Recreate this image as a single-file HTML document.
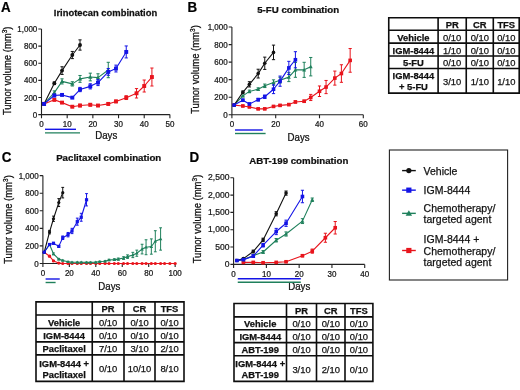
<!DOCTYPE html>
<html><head><meta charset="utf-8"><style>
html,body{margin:0;padding:0;background:#fff;}
body{width:520px;height:390px;position:relative;overflow:hidden;}
svg{will-change:transform;}
svg text{font-family:"Liberation Sans",sans-serif;stroke:#111;stroke-width:0.25px;}
</style></head><body>
<svg width="520" height="390" viewBox="0 0 520 390" style="position:absolute;left:0;top:0">
<path d="M41.5 29V114.6H169.9" fill="none" stroke="#222222" stroke-width="1.1"/>
<path d="M38.3 114.6H41.5M38.3 97.48H41.5M38.3 80.36H41.5M38.3 63.24H41.5M38.3 46.12H41.5M38.3 29H41.5M41.5 114.6V118.2M67.18 114.6V118.2M92.86 114.6V118.2M118.54 114.6V118.2M144.22 114.6V118.2M169.9 114.6V118.2" fill="none" stroke="#222222" stroke-width="1.1"/>
<text transform="translate(37.3,117.7) scale(0.91,1)" font-size="8.8" text-anchor="end" font-weight="normal" fill="#222" >0</text>
<text transform="translate(37.3,100.58) scale(0.91,1)" font-size="8.8" text-anchor="end" font-weight="normal" fill="#222" >200</text>
<text transform="translate(37.3,83.46) scale(0.91,1)" font-size="8.8" text-anchor="end" font-weight="normal" fill="#222" >400</text>
<text transform="translate(37.3,66.34) scale(0.91,1)" font-size="8.8" text-anchor="end" font-weight="normal" fill="#222" >600</text>
<text transform="translate(37.3,49.22) scale(0.91,1)" font-size="8.8" text-anchor="end" font-weight="normal" fill="#222" >800</text>
<text transform="translate(37.3,32.1) scale(0.91,1)" font-size="8.8" text-anchor="end" font-weight="normal" fill="#222" >1,000</text>
<text transform="translate(41.5,126.7) scale(0.91,1)" font-size="8.8" text-anchor="middle" font-weight="normal" fill="#222" >0</text>
<text transform="translate(67.18,126.7) scale(0.91,1)" font-size="8.8" text-anchor="middle" font-weight="normal" fill="#222" >10</text>
<text transform="translate(92.86,126.7) scale(0.91,1)" font-size="8.8" text-anchor="middle" font-weight="normal" fill="#222" >20</text>
<text transform="translate(118.54,126.7) scale(0.91,1)" font-size="8.8" text-anchor="middle" font-weight="normal" fill="#222" >30</text>
<text transform="translate(144.22,126.7) scale(0.91,1)" font-size="8.8" text-anchor="middle" font-weight="normal" fill="#222" >40</text>
<text transform="translate(169.9,126.7) scale(0.91,1)" font-size="8.8" text-anchor="middle" font-weight="normal" fill="#222" >50</text>
<text transform="translate(10.7,70.8) rotate(-90) scale(1,1.1)" font-size="9.5" text-anchor="middle" fill="#111">Tumor volume (mm<tspan dy="-3.2" font-size="6.5">3</tspan><tspan dy="3.2">)</tspan></text>
<text transform="translate(106.2,139.3) scale(0.97,1)" font-size="10" text-anchor="middle" font-weight="normal" fill="#111" >Days</text>
<text transform="translate(105.5,15.65) scale(0.96,1)" font-size="9.8" text-anchor="middle" font-weight="bold" fill="#111" >Irinotecan combination</text>
<text transform="translate(1,12.2) scale(0.88,1)" font-size="15.2" text-anchor="start" font-weight="bold" fill="#000" >A</text>
<path d="M45 129.3H76" stroke="#1414e6" stroke-width="1.4"/>
<path d="M45 132.9H80" stroke="#1f805c" stroke-width="1.4"/>
<polyline points="44.07,103.9 54.34,99.79 62.04,102.62 72.32,106.72 80.02,105.53 90.29,104.76 98,105.53 108.27,103.9 115.97,101.42 126.24,97.65 136.52,93.29 144.22,86.01 151.92,77.02" fill="none" stroke="#e8141c" stroke-width="1.1" stroke-linejoin="round"/>
<path d="M54.34 98.51V101.08M52.74 98.51H55.94M52.74 101.08H55.94M62.04 101.76V103.47M60.44 101.76H63.64M60.44 103.47H63.64M72.32 105.87V107.58M70.72 105.87H73.92M70.72 107.58H73.92M80.02 104.24V106.81M78.42 104.24H81.62M78.42 106.81H81.62M90.29 103.47V106.04M88.69 103.47H91.89M88.69 106.04H91.89M98 104.5V106.55M96.4 104.5H99.6M96.4 106.55H99.6M108.27 102.62V105.18M106.67 102.62H109.87M106.67 105.18H109.87M115.97 100.13V102.7M114.37 100.13H117.57M114.37 102.7H117.57M126.24 95.77V99.53M124.64 95.77H127.84M124.64 99.53H127.84M136.52 88.58V97.99M134.92 88.58H138.12M134.92 97.99H138.12M144.22 80.02V92M142.62 80.02H145.82M142.62 92H145.82M151.92 68.03V86.01M150.32 68.03H153.52M150.32 86.01H153.52" fill="none" stroke="#e8141c" stroke-width="1"/>
<rect x="42.12" y="101.95" width="3.9" height="3.9" fill="#e8141c"/>
<rect x="52.39" y="97.84" width="3.9" height="3.9" fill="#e8141c"/>
<rect x="60.09" y="100.67" width="3.9" height="3.9" fill="#e8141c"/>
<rect x="70.37" y="104.77" width="3.9" height="3.9" fill="#e8141c"/>
<rect x="78.07" y="103.58" width="3.9" height="3.9" fill="#e8141c"/>
<rect x="88.34" y="102.81" width="3.9" height="3.9" fill="#e8141c"/>
<rect x="96.05" y="103.58" width="3.9" height="3.9" fill="#e8141c"/>
<rect x="106.32" y="101.95" width="3.9" height="3.9" fill="#e8141c"/>
<rect x="114.02" y="99.47" width="3.9" height="3.9" fill="#e8141c"/>
<rect x="124.29" y="95.7" width="3.9" height="3.9" fill="#e8141c"/>
<rect x="134.57" y="91.34" width="3.9" height="3.9" fill="#e8141c"/>
<rect x="142.27" y="84.06" width="3.9" height="3.9" fill="#e8141c"/>
<rect x="149.97" y="75.07" width="3.9" height="3.9" fill="#e8141c"/>
<polyline points="44.07,103.9 54.34,92.6 62.04,81.39 72.32,83.87 80.02,78.9 90.29,77.02 98,77.62 108.27,70" fill="none" stroke="#1f805c" stroke-width="1.1" stroke-linejoin="round"/>
<path d="M54.34 90.89V94.31M52.74 90.89H55.94M52.74 94.31H55.94M62.04 78.82V83.96M60.44 78.82H63.64M60.44 83.96H63.64M72.32 81.73V86.01M70.72 81.73H73.92M70.72 86.01H73.92M80.02 75.48V82.33M78.42 75.48H81.62M78.42 82.33H81.62M90.29 73.17V80.87M88.69 73.17H91.89M88.69 80.87H91.89M98 73.77V81.47M96.4 73.77H99.6M96.4 81.47H99.6M108.27 62.3V77.71M106.67 62.3H109.87M106.67 77.71H109.87" fill="none" stroke="#1f805c" stroke-width="1"/>
<path d="M41.92 105.56L46.21 105.56L44.07 101.85Z" fill="#1f805c"/>
<path d="M52.2 94.26L56.49 94.26L54.34 90.55Z" fill="#1f805c"/>
<path d="M59.9 83.04L64.19 83.04L62.04 79.34Z" fill="#1f805c"/>
<path d="M70.17 85.53L74.46 85.53L72.32 81.82Z" fill="#1f805c"/>
<path d="M77.88 80.56L82.17 80.56L80.02 76.86Z" fill="#1f805c"/>
<path d="M88.15 78.68L92.44 78.68L90.29 74.97Z" fill="#1f805c"/>
<path d="M95.85 79.28L100.14 79.28L98 75.57Z" fill="#1f805c"/>
<path d="M106.12 71.66L110.41 71.66L108.27 67.95Z" fill="#1f805c"/>
<polyline points="44.07,103.9 54.34,83.27 62.04,70.6 72.32,55.02 80.02,45.01" fill="none" stroke="#111111" stroke-width="1.1" stroke-linejoin="round"/>
<path d="M54.34 81.99V84.55M52.74 81.99H55.94M52.74 84.55H55.94M62.04 66.75V74.45M60.44 66.75H63.64M60.44 74.45H63.64M72.32 51.43V58.62M70.72 51.43H73.92M70.72 58.62H73.92M80.02 39.87V50.14M78.42 39.87H81.62M78.42 50.14H81.62" fill="none" stroke="#111111" stroke-width="1"/>
<circle cx="44.07" cy="103.9" r="1.95" fill="#111111"/>
<circle cx="54.34" cy="83.27" r="1.95" fill="#111111"/>
<circle cx="62.04" cy="70.6" r="1.95" fill="#111111"/>
<circle cx="72.32" cy="55.02" r="1.95" fill="#111111"/>
<circle cx="80.02" cy="45.01" r="1.95" fill="#111111"/>
<polyline points="44.07,103.9 54.34,95.51 62.04,94.91 72.32,97.65 80.02,89.52 90.29,86.35 98,82.59 108.27,71.89 115.97,68.55 126.24,51.94" fill="none" stroke="#1414e6" stroke-width="1.1" stroke-linejoin="round"/>
<path d="M54.34 94.23V96.8M52.74 94.23H55.94M52.74 96.8H55.94M62.04 94.06V95.77M60.44 94.06H63.64M60.44 95.77H63.64M72.32 96.8V98.51M70.72 96.8H73.92M70.72 98.51H73.92M80.02 87.38V91.66M78.42 87.38H81.62M78.42 91.66H81.62M90.29 83.78V88.92M88.69 83.78H91.89M88.69 88.92H91.89M98 79.59V85.58M96.4 79.59H99.6M96.4 85.58H99.6M108.27 68.46V75.31M106.67 68.46H109.87M106.67 75.31H109.87M115.97 65.12V71.97M114.37 65.12H117.57M114.37 71.97H117.57M126.24 45.95V57.93M124.64 45.95H127.84M124.64 57.93H127.84" fill="none" stroke="#1414e6" stroke-width="1"/>
<rect x="42.12" y="101.95" width="3.9" height="3.9" fill="#1414e6"/>
<rect x="52.39" y="93.56" width="3.9" height="3.9" fill="#1414e6"/>
<rect x="60.09" y="92.96" width="3.9" height="3.9" fill="#1414e6"/>
<rect x="70.37" y="95.7" width="3.9" height="3.9" fill="#1414e6"/>
<rect x="78.07" y="87.57" width="3.9" height="3.9" fill="#1414e6"/>
<rect x="88.34" y="84.4" width="3.9" height="3.9" fill="#1414e6"/>
<rect x="96.05" y="80.64" width="3.9" height="3.9" fill="#1414e6"/>
<rect x="106.32" y="69.94" width="3.9" height="3.9" fill="#1414e6"/>
<rect x="114.02" y="66.6" width="3.9" height="3.9" fill="#1414e6"/>
<rect x="124.29" y="49.99" width="3.9" height="3.9" fill="#1414e6"/>
<path d="M231.9 27.05V114.75H363.3" fill="none" stroke="#222222" stroke-width="1.1"/>
<path d="M228.7 114.75H231.9M228.7 97.21H231.9M228.7 79.67H231.9M228.7 62.13H231.9M228.7 44.59H231.9M228.7 27.05H231.9M231.9 114.75V118.35M275.7 114.75V118.35M319.5 114.75V118.35M363.3 114.75V118.35" fill="none" stroke="#222222" stroke-width="1.1"/>
<text transform="translate(227.7,117.85) scale(0.91,1)" font-size="8.8" text-anchor="end" font-weight="normal" fill="#222" >0</text>
<text transform="translate(227.7,100.31) scale(0.91,1)" font-size="8.8" text-anchor="end" font-weight="normal" fill="#222" >200</text>
<text transform="translate(227.7,82.77) scale(0.91,1)" font-size="8.8" text-anchor="end" font-weight="normal" fill="#222" >400</text>
<text transform="translate(227.7,65.23) scale(0.91,1)" font-size="8.8" text-anchor="end" font-weight="normal" fill="#222" >600</text>
<text transform="translate(227.7,47.69) scale(0.91,1)" font-size="8.8" text-anchor="end" font-weight="normal" fill="#222" >800</text>
<text transform="translate(227.7,30.15) scale(0.91,1)" font-size="8.8" text-anchor="end" font-weight="normal" fill="#222" >1,000</text>
<text transform="translate(231.9,126.85) scale(0.91,1)" font-size="8.8" text-anchor="middle" font-weight="normal" fill="#222" >0</text>
<text transform="translate(275.7,126.85) scale(0.91,1)" font-size="8.8" text-anchor="middle" font-weight="normal" fill="#222" >20</text>
<text transform="translate(319.5,126.85) scale(0.91,1)" font-size="8.8" text-anchor="middle" font-weight="normal" fill="#222" >40</text>
<text transform="translate(363.3,126.85) scale(0.91,1)" font-size="8.8" text-anchor="middle" font-weight="normal" fill="#222" >60</text>
<text transform="translate(198.75,69.5) rotate(-90) scale(1,1.1)" font-size="9.5" text-anchor="middle" fill="#111">Tumor volume (mm<tspan dy="-3.2" font-size="6.5">3</tspan><tspan dy="3.2">)</tspan></text>
<text transform="translate(298.6,141.3) scale(0.97,1)" font-size="10" text-anchor="middle" font-weight="normal" fill="#111" >Days</text>
<text transform="translate(298.1,13.4) scale(0.99,1)" font-size="9.8" text-anchor="middle" font-weight="bold" fill="#111" >5-FU combination</text>
<text transform="translate(187.6,12.2) scale(0.88,1)" font-size="15.2" text-anchor="start" font-weight="bold" fill="#000" >B</text>
<path d="M235 130H262.75" stroke="#1414e6" stroke-width="1.4"/>
<path d="M235 133.5H265.6" stroke="#1f805c" stroke-width="1.4"/>
<polyline points="234.09,105.1 242.85,105.98 249.42,106.94 258.18,108.87 264.75,108.87 273.51,106.42 280.08,105.37 288.84,104.58 295.41,101.95 304.17,101.24 310.74,97.47 319.5,91.25 326.07,87.04 334.83,78.09 341.4,73.53 350.16,60.38" fill="none" stroke="#e8141c" stroke-width="1.1" stroke-linejoin="round"/>
<path d="M242.85 105.28V106.68M241.25 105.28H244.45M241.25 106.68H244.45M249.42 106.24V107.65M247.82 106.24H251.02M247.82 107.65H251.02M258.18 108.17V109.58M256.58 108.17H259.78M256.58 109.58H259.78M264.75 108.17V109.58M263.15 108.17H266.35M263.15 109.58H266.35M273.51 105.54V107.3M271.91 105.54H275.11M271.91 107.3H275.11M280.08 104.49V106.24M278.48 104.49H281.68M278.48 106.24H281.68M288.84 103.52V105.63M287.24 103.52H290.44M287.24 105.63H290.44M295.41 100.89V103M293.81 100.89H297.01M293.81 103H297.01M304.17 100.19V102.3M302.57 100.19H305.77M302.57 102.3H305.77M310.74 94.4V100.54M309.14 94.4H312.34M309.14 100.54H312.34M319.5 85.98V96.51M317.9 85.98H321.1M317.9 96.51H321.1M326.07 80.46V93.61M324.47 80.46H327.67M324.47 93.61H327.67M334.83 71.08V85.11M333.23 71.08H336.43M333.23 85.11H336.43M341.4 64.76V82.3M339.8 64.76H343M339.8 82.3H343M350.16 48.54V72.22M348.56 48.54H351.76M348.56 72.22H351.76" fill="none" stroke="#e8141c" stroke-width="1"/>
<rect x="232.29" y="103.3" width="3.6" height="3.6" fill="#e8141c"/>
<rect x="241.05" y="104.18" width="3.6" height="3.6" fill="#e8141c"/>
<rect x="247.62" y="105.14" width="3.6" height="3.6" fill="#e8141c"/>
<rect x="256.38" y="107.07" width="3.6" height="3.6" fill="#e8141c"/>
<rect x="262.95" y="107.07" width="3.6" height="3.6" fill="#e8141c"/>
<rect x="271.71" y="104.62" width="3.6" height="3.6" fill="#e8141c"/>
<rect x="278.28" y="103.57" width="3.6" height="3.6" fill="#e8141c"/>
<rect x="287.04" y="102.78" width="3.6" height="3.6" fill="#e8141c"/>
<rect x="293.61" y="100.15" width="3.6" height="3.6" fill="#e8141c"/>
<rect x="302.37" y="99.44" width="3.6" height="3.6" fill="#e8141c"/>
<rect x="308.94" y="95.67" width="3.6" height="3.6" fill="#e8141c"/>
<rect x="317.7" y="89.45" width="3.6" height="3.6" fill="#e8141c"/>
<rect x="324.27" y="85.24" width="3.6" height="3.6" fill="#e8141c"/>
<rect x="333.03" y="76.29" width="3.6" height="3.6" fill="#e8141c"/>
<rect x="339.6" y="71.73" width="3.6" height="3.6" fill="#e8141c"/>
<rect x="348.36" y="58.58" width="3.6" height="3.6" fill="#e8141c"/>
<polyline points="234.09,105.1 242.85,95.89 249.42,91.42 258.18,89.14 264.75,85.81 273.51,82.48 280.08,80.2 288.84,77.13 295.41,69.85 304.17,69.85 310.74,66.69" fill="none" stroke="#1f805c" stroke-width="1.1" stroke-linejoin="round"/>
<path d="M242.85 95.02V96.77M241.25 95.02H244.45M241.25 96.77H244.45M249.42 90.11V92.74M247.82 90.11H251.02M247.82 92.74H251.02M258.18 87.83V90.46M256.58 87.83H259.78M256.58 90.46H259.78M264.75 84.06V87.56M263.15 84.06H266.35M263.15 87.56H266.35M273.51 79.85V85.11M271.91 79.85H275.11M271.91 85.11H275.11M280.08 77.3V83.09M278.48 77.3H281.68M278.48 83.09H281.68M288.84 72.65V81.6M287.24 72.65H290.44M287.24 81.6H290.44M295.41 62.39V77.3M293.81 62.39H297.01M293.81 77.3H297.01M304.17 62.31V77.39M302.57 62.31H305.77M302.57 77.39H305.77M310.74 57.48V75.9M309.14 57.48H312.34M309.14 75.9H312.34" fill="none" stroke="#1f805c" stroke-width="1"/>
<path d="M232.11 106.63L236.07 106.63L234.09 103.21Z" fill="#1f805c"/>
<path d="M240.87 97.42L244.83 97.42L242.85 94Z" fill="#1f805c"/>
<path d="M247.44 92.95L251.4 92.95L249.42 89.53Z" fill="#1f805c"/>
<path d="M256.2 90.67L260.16 90.67L258.18 87.25Z" fill="#1f805c"/>
<path d="M262.77 87.34L266.73 87.34L264.75 83.92Z" fill="#1f805c"/>
<path d="M271.53 84.01L275.49 84.01L273.51 80.59Z" fill="#1f805c"/>
<path d="M278.1 81.73L282.06 81.73L280.08 78.31Z" fill="#1f805c"/>
<path d="M286.86 78.66L290.82 78.66L288.84 75.24Z" fill="#1f805c"/>
<path d="M293.43 71.38L297.39 71.38L295.41 67.96Z" fill="#1f805c"/>
<path d="M302.19 71.38L306.15 71.38L304.17 67.96Z" fill="#1f805c"/>
<path d="M308.76 68.22L312.72 68.22L310.74 64.8Z" fill="#1f805c"/>
<polyline points="234.09,105.1 242.85,92.3 249.42,84.32 258.18,73.62 264.75,63.27 273.51,52.4" fill="none" stroke="#111111" stroke-width="1.1" stroke-linejoin="round"/>
<path d="M242.85 90.98V93.61M241.25 90.98H244.45M241.25 93.61H244.45M249.42 81.69V86.95M247.82 81.69H251.02M247.82 86.95H251.02M258.18 69.23V78M256.58 69.23H259.78M256.58 78H259.78M264.75 57.13V69.41M263.15 57.13H266.35M263.15 69.41H266.35M273.51 45.12V59.67M271.91 45.12H275.11M271.91 59.67H275.11" fill="none" stroke="#111111" stroke-width="1"/>
<circle cx="234.09" cy="105.1" r="1.8" fill="#111111"/>
<circle cx="242.85" cy="92.3" r="1.8" fill="#111111"/>
<circle cx="249.42" cy="84.32" r="1.8" fill="#111111"/>
<circle cx="258.18" cy="73.62" r="1.8" fill="#111111"/>
<circle cx="264.75" cy="63.27" r="1.8" fill="#111111"/>
<circle cx="273.51" cy="52.4" r="1.8" fill="#111111"/>
<polyline points="234.09,105.1 242.85,100.19 249.42,103.96 258.18,99.67 264.75,96.77 273.51,89.23 280.08,81.16 288.84,67.92 295.41,59.76" fill="none" stroke="#1414e6" stroke-width="1.1" stroke-linejoin="round"/>
<path d="M242.85 99.14V101.24M241.25 99.14H244.45M241.25 101.24H244.45M249.42 103.09V104.84M247.82 103.09H251.02M247.82 104.84H251.02M258.18 98.35V100.98M256.58 98.35H259.78M256.58 100.98H259.78M264.75 95.02V98.53M263.15 95.02H266.35M263.15 98.53H266.35M273.51 84.84V93.61M271.91 84.84H275.11M271.91 93.61H275.11M280.08 76.07V86.25M278.48 76.07H281.68M278.48 86.25H281.68M288.84 61.34V74.5M287.24 61.34H290.44M287.24 74.5H290.44M295.41 51.69V67.83M293.81 51.69H297.01M293.81 67.83H297.01" fill="none" stroke="#1414e6" stroke-width="1"/>
<rect x="232.29" y="103.3" width="3.6" height="3.6" fill="#1414e6"/>
<rect x="241.05" y="98.39" width="3.6" height="3.6" fill="#1414e6"/>
<rect x="247.62" y="102.16" width="3.6" height="3.6" fill="#1414e6"/>
<rect x="256.38" y="97.87" width="3.6" height="3.6" fill="#1414e6"/>
<rect x="262.95" y="94.97" width="3.6" height="3.6" fill="#1414e6"/>
<rect x="271.71" y="87.43" width="3.6" height="3.6" fill="#1414e6"/>
<rect x="278.28" y="79.36" width="3.6" height="3.6" fill="#1414e6"/>
<rect x="287.04" y="66.12" width="3.6" height="3.6" fill="#1414e6"/>
<rect x="293.61" y="57.96" width="3.6" height="3.6" fill="#1414e6"/>
<path d="M42.9 175.6V263.5H175.15" fill="none" stroke="#222222" stroke-width="1.1"/>
<path d="M39.7 263.5H42.9M39.7 245.92H42.9M39.7 228.34H42.9M39.7 210.76H42.9M39.7 193.18H42.9M39.7 175.6H42.9M42.9 263.5V267.1M69.35 263.5V267.1M95.8 263.5V267.1M122.25 263.5V267.1M148.7 263.5V267.1M175.15 263.5V267.1" fill="none" stroke="#222222" stroke-width="1.1"/>
<text transform="translate(38.7,266.6) scale(0.91,1)" font-size="8.8" text-anchor="end" font-weight="normal" fill="#222" >0</text>
<text transform="translate(38.7,249.02) scale(0.91,1)" font-size="8.8" text-anchor="end" font-weight="normal" fill="#222" >200</text>
<text transform="translate(38.7,231.44) scale(0.91,1)" font-size="8.8" text-anchor="end" font-weight="normal" fill="#222" >400</text>
<text transform="translate(38.7,213.86) scale(0.91,1)" font-size="8.8" text-anchor="end" font-weight="normal" fill="#222" >600</text>
<text transform="translate(38.7,196.28) scale(0.91,1)" font-size="8.8" text-anchor="end" font-weight="normal" fill="#222" >800</text>
<text transform="translate(38.7,178.7) scale(0.91,1)" font-size="8.8" text-anchor="end" font-weight="normal" fill="#222" >1,000</text>
<text transform="translate(42.9,276.4) scale(0.91,1)" font-size="8.8" text-anchor="middle" font-weight="normal" fill="#222" >0</text>
<text transform="translate(69.35,276.4) scale(0.91,1)" font-size="8.8" text-anchor="middle" font-weight="normal" fill="#222" >20</text>
<text transform="translate(95.8,276.4) scale(0.91,1)" font-size="8.8" text-anchor="middle" font-weight="normal" fill="#222" >40</text>
<text transform="translate(122.25,276.4) scale(0.91,1)" font-size="8.8" text-anchor="middle" font-weight="normal" fill="#222" >60</text>
<text transform="translate(148.7,276.4) scale(0.91,1)" font-size="8.8" text-anchor="middle" font-weight="normal" fill="#222" >80</text>
<text transform="translate(175.15,276.4) scale(0.91,1)" font-size="8.8" text-anchor="middle" font-weight="normal" fill="#222" >100</text>
<text transform="translate(11.9,219.5) rotate(-90) scale(1,1.1)" font-size="9.5" text-anchor="middle" fill="#111">Tumor volume (mm<tspan dy="-3.2" font-size="6.5">3</tspan><tspan dy="3.2">)</tspan></text>
<text transform="translate(109.3,290.4) scale(0.97,1)" font-size="10" text-anchor="middle" font-weight="normal" fill="#111" >Days</text>
<text transform="translate(108.7,160.9) scale(0.99,1)" font-size="9.8" text-anchor="middle" font-weight="bold" fill="#111" >Paclitaxel combination</text>
<text transform="translate(1.8,162.3) scale(0.88,1)" font-size="15.2" text-anchor="start" font-weight="bold" fill="#000" >C</text>
<path d="M45.6 279H59.75" stroke="#1414e6" stroke-width="1.4"/>
<path d="M45.6 282.5H55.6" stroke="#1f805c" stroke-width="1.4"/>
<polyline points="44.22,252.25 49.51,256.2 53.48,260.95 58.77,263.06 62.74,263.5 68.03,263.5 72,263.5 77.28,263.5 81.25,263.5 86.54,263.5 90.51,263.5 95.8,263.5 99.77,263.5 105.06,263.5 109.03,263.5 114.31,263.5 118.28,263.5 123.57,263.5 127.54,263.5 132.83,263.5 136.8,263.5 142.09,263.5 146.06,263.5 151.34,263.5 155.31,263.5 160.6,263.5 164.57,263.5 169.86,263.5 175.15,263.5" fill="none" stroke="#e8141c" stroke-width="1.1" stroke-linejoin="round"/>
<path d="M49.51 255.5V256.91M48.11 255.5H50.91M48.11 256.91H50.91M53.48 260.51V261.39M52.08 260.51H54.88M52.08 261.39H54.88M58.77 262.8V263.32M57.37 262.8H60.17M57.37 263.32H60.17" fill="none" stroke="#e8141c" stroke-width="1"/>
<circle cx="44.22" cy="252.25" r="1.6" fill="#e8141c"/>
<circle cx="49.51" cy="256.2" r="1.6" fill="#e8141c"/>
<circle cx="53.48" cy="260.95" r="1.6" fill="#e8141c"/>
<circle cx="58.77" cy="263.06" r="1.6" fill="#e8141c"/>
<circle cx="62.74" cy="263.5" r="1.6" fill="#e8141c"/>
<circle cx="68.03" cy="263.5" r="1.6" fill="#e8141c"/>
<circle cx="72" cy="263.5" r="1.6" fill="#e8141c"/>
<circle cx="77.28" cy="263.5" r="1.6" fill="#e8141c"/>
<circle cx="81.25" cy="263.5" r="1.6" fill="#e8141c"/>
<circle cx="86.54" cy="263.5" r="1.6" fill="#e8141c"/>
<circle cx="90.51" cy="263.5" r="1.6" fill="#e8141c"/>
<circle cx="95.8" cy="263.5" r="1.6" fill="#e8141c"/>
<circle cx="99.77" cy="263.5" r="1.6" fill="#e8141c"/>
<circle cx="105.06" cy="263.5" r="1.6" fill="#e8141c"/>
<circle cx="109.03" cy="263.5" r="1.6" fill="#e8141c"/>
<circle cx="114.31" cy="263.5" r="1.6" fill="#e8141c"/>
<circle cx="118.28" cy="263.5" r="1.6" fill="#e8141c"/>
<circle cx="123.57" cy="263.5" r="1.6" fill="#e8141c"/>
<circle cx="127.54" cy="263.5" r="1.6" fill="#e8141c"/>
<circle cx="132.83" cy="263.5" r="1.6" fill="#e8141c"/>
<circle cx="136.8" cy="263.5" r="1.6" fill="#e8141c"/>
<circle cx="142.09" cy="263.5" r="1.6" fill="#e8141c"/>
<circle cx="146.06" cy="263.5" r="1.6" fill="#e8141c"/>
<circle cx="151.34" cy="263.5" r="1.6" fill="#e8141c"/>
<circle cx="155.31" cy="263.5" r="1.6" fill="#e8141c"/>
<circle cx="160.6" cy="263.5" r="1.6" fill="#e8141c"/>
<circle cx="164.57" cy="263.5" r="1.6" fill="#e8141c"/>
<circle cx="169.86" cy="263.5" r="1.6" fill="#e8141c"/>
<circle cx="175.15" cy="263.5" r="1.6" fill="#e8141c"/>
<polyline points="44.22,252.25 49.51,244.51 53.48,253.83 58.77,259.11 62.74,260.42 68.03,261.74 72,262.27 77.28,262.27 81.25,262.27 86.54,262.36 90.51,262.36 95.8,262.27 99.77,261.57 105.06,261.21 109.03,259.98 114.31,259.63 118.28,259.11 123.57,258.05 127.54,256.64 132.83,254.97 136.8,253.22 142.09,249.08 146.06,247.24 151.34,246.54 155.31,241.26 160.6,238.98" fill="none" stroke="#1f805c" stroke-width="1.1" stroke-linejoin="round"/>
<path d="M49.51 243.63V245.39M48.11 243.63H50.91M48.11 245.39H50.91M53.48 252.95V254.71M52.08 252.95H54.88M52.08 254.71H54.88M58.77 258.4V259.81M57.37 258.4H60.17M57.37 259.81H60.17M62.74 259.98V260.86M61.34 259.98H64.14M61.34 260.86H64.14M68.03 261.39V262.09M66.63 261.39H69.43M66.63 262.09H69.43M72 262.01V262.53M70.59 262.01H73.4M70.59 262.53H73.4M77.28 262.01V262.53M75.88 262.01H78.69M75.88 262.53H78.69M81.25 262.01V262.53M79.85 262.01H82.65M79.85 262.53H82.65M86.54 262.09V262.62M85.14 262.09H87.94M85.14 262.62H87.94M90.51 262.09V262.62M89.11 262.09H91.91M89.11 262.62H91.91M95.8 261.92V262.62M94.4 261.92H97.2M94.4 262.62H97.2M99.77 261.13V262.01M98.37 261.13H101.17M98.37 262.01H101.17M105.06 260.69V261.74M103.66 260.69H106.46M103.66 261.74H106.46M109.03 259.28V260.69M107.62 259.28H110.43M107.62 260.69H110.43M114.31 258.75V260.51M112.91 258.75H115.72M112.91 260.51H115.72M118.28 258.05V260.16M116.88 258.05H119.68M116.88 260.16H119.68M123.57 256.73V259.37M122.17 256.73H124.97M122.17 259.37H124.97M127.54 254.89V258.4M126.14 254.89H128.94M126.14 258.4H128.94M132.83 252.34V257.61M131.43 252.34H134.23M131.43 257.61H134.23M136.8 250.14V256.29M135.4 250.14H138.2M135.4 256.29H138.2M142.09 244.25V253.92M140.69 244.25H143.49M140.69 253.92H143.49M146.06 239.77V254.71M144.66 239.77H147.46M144.66 254.71H147.46M151.34 238.89V254.18M149.94 238.89H152.75M149.94 254.18H152.75M155.31 230.71V251.81M153.91 230.71H156.71M153.91 251.81H156.71M160.6 227.81V250.14M159.2 227.81H162M159.2 250.14H162" fill="none" stroke="#1f805c" stroke-width="1"/>
<path d="M42.46 253.61L45.98 253.61L44.22 250.57Z" fill="#1f805c"/>
<path d="M47.75 245.87L51.27 245.87L49.51 242.83Z" fill="#1f805c"/>
<path d="M51.72 255.19L55.24 255.19L53.48 252.15Z" fill="#1f805c"/>
<path d="M57.01 260.47L60.53 260.47L58.77 257.43Z" fill="#1f805c"/>
<path d="M60.98 261.78L64.5 261.78L62.74 258.74Z" fill="#1f805c"/>
<path d="M66.27 263.1L69.79 263.1L68.03 260.06Z" fill="#1f805c"/>
<path d="M70.23 263.63L73.76 263.63L72 260.59Z" fill="#1f805c"/>
<path d="M75.52 263.63L79.05 263.63L77.28 260.59Z" fill="#1f805c"/>
<path d="M79.49 263.63L83.01 263.63L81.25 260.59Z" fill="#1f805c"/>
<path d="M84.78 263.72L88.3 263.72L86.54 260.68Z" fill="#1f805c"/>
<path d="M88.75 263.72L92.27 263.72L90.51 260.68Z" fill="#1f805c"/>
<path d="M94.04 263.63L97.56 263.63L95.8 260.59Z" fill="#1f805c"/>
<path d="M98.01 262.93L101.53 262.93L99.77 259.89Z" fill="#1f805c"/>
<path d="M103.3 262.57L106.82 262.57L105.06 259.53Z" fill="#1f805c"/>
<path d="M107.27 261.34L110.79 261.34L109.03 258.3Z" fill="#1f805c"/>
<path d="M112.55 260.99L116.08 260.99L114.31 257.95Z" fill="#1f805c"/>
<path d="M116.52 260.47L120.04 260.47L118.28 257.43Z" fill="#1f805c"/>
<path d="M121.81 259.41L125.33 259.41L123.57 256.37Z" fill="#1f805c"/>
<path d="M125.78 258L129.3 258L127.54 254.96Z" fill="#1f805c"/>
<path d="M131.07 256.33L134.59 256.33L132.83 253.29Z" fill="#1f805c"/>
<path d="M135.04 254.58L138.56 254.58L136.8 251.54Z" fill="#1f805c"/>
<path d="M140.33 250.44L143.85 250.44L142.09 247.4Z" fill="#1f805c"/>
<path d="M144.3 248.6L147.81 248.6L146.06 245.56Z" fill="#1f805c"/>
<path d="M149.59 247.9L153.1 247.9L151.34 244.86Z" fill="#1f805c"/>
<path d="M153.55 242.62L157.07 242.62L155.31 239.58Z" fill="#1f805c"/>
<path d="M158.84 240.34L162.36 240.34L160.6 237.3Z" fill="#1f805c"/>
<polyline points="44.22,252.25 49.51,232.12 53.48,218.76 58.77,202.59 62.74,192.65" fill="none" stroke="#111111" stroke-width="1.1" stroke-linejoin="round"/>
<path d="M49.51 230.36V233.88M48.11 230.36H50.91M48.11 233.88H50.91M53.48 216.12V221.4M52.08 216.12H54.88M52.08 221.4H54.88M58.77 198.63V206.54M57.37 198.63H60.17M57.37 206.54H60.17M62.74 187.38V197.93M61.34 187.38H64.14M61.34 197.93H64.14" fill="none" stroke="#111111" stroke-width="1"/>
<circle cx="44.22" cy="252.25" r="1.6" fill="#111111"/>
<circle cx="49.51" cy="232.12" r="1.6" fill="#111111"/>
<circle cx="53.48" cy="218.76" r="1.6" fill="#111111"/>
<circle cx="58.77" cy="202.59" r="1.6" fill="#111111"/>
<circle cx="62.74" cy="192.65" r="1.6" fill="#111111"/>
<polyline points="44.22,252.25 49.51,244.51 53.48,243.28 58.77,246.36 62.74,237.75 68.03,234.67 72,230.98 77.28,221.66 81.25,217.26 86.54,199.77" fill="none" stroke="#1414e6" stroke-width="1.1" stroke-linejoin="round"/>
<path d="M49.51 243.63V245.39M48.11 243.63H50.91M48.11 245.39H50.91M53.48 242.4V244.16M52.08 242.4H54.88M52.08 244.16H54.88M58.77 245.48V247.24M57.37 245.48H60.17M57.37 247.24H60.17M62.74 235.99V239.5M61.34 235.99H64.14M61.34 239.5H64.14M68.03 232.47V236.87M66.63 232.47H69.43M66.63 236.87H69.43M72 228.34V233.61M70.59 228.34H73.4M70.59 233.61H73.4M77.28 218.14V225.18M75.88 218.14H78.69M75.88 225.18H78.69M81.25 213.31V221.22M79.85 213.31H82.65M79.85 221.22H82.65M86.54 193.62V205.93M85.14 193.62H87.94M85.14 205.93H87.94" fill="none" stroke="#1414e6" stroke-width="1"/>
<rect x="42.62" y="250.65" width="3.2" height="3.2" fill="#1414e6"/>
<rect x="47.91" y="242.91" width="3.2" height="3.2" fill="#1414e6"/>
<rect x="51.88" y="241.68" width="3.2" height="3.2" fill="#1414e6"/>
<rect x="57.17" y="244.76" width="3.2" height="3.2" fill="#1414e6"/>
<rect x="61.14" y="236.15" width="3.2" height="3.2" fill="#1414e6"/>
<rect x="66.43" y="233.07" width="3.2" height="3.2" fill="#1414e6"/>
<rect x="70.4" y="229.38" width="3.2" height="3.2" fill="#1414e6"/>
<rect x="75.69" y="220.06" width="3.2" height="3.2" fill="#1414e6"/>
<rect x="79.65" y="215.66" width="3.2" height="3.2" fill="#1414e6"/>
<rect x="84.94" y="198.17" width="3.2" height="3.2" fill="#1414e6"/>
<path d="M233.6 177.75V264.4H364.72" fill="none" stroke="#222222" stroke-width="1.1"/>
<path d="M230.4 264.4H233.6M230.4 247.07H233.6M230.4 229.74H233.6M230.4 212.41H233.6M230.4 195.08H233.6M230.4 177.75H233.6M233.6 264.4V268M266.38 264.4V268M299.16 264.4V268M331.94 264.4V268M364.72 264.4V268" fill="none" stroke="#222222" stroke-width="1.1"/>
<text transform="translate(229.4,267) scale(0.97,1)" font-size="8.8" text-anchor="end" font-weight="normal" fill="#222" >0</text>
<text transform="translate(229.4,249.67) scale(0.97,1)" font-size="8.8" text-anchor="end" font-weight="normal" fill="#222" >500</text>
<text transform="translate(229.4,232.34) scale(0.97,1)" font-size="8.8" text-anchor="end" font-weight="normal" fill="#222" >1,000</text>
<text transform="translate(229.4,215.01) scale(0.97,1)" font-size="8.8" text-anchor="end" font-weight="normal" fill="#222" >1,500</text>
<text transform="translate(229.4,197.68) scale(0.97,1)" font-size="8.8" text-anchor="end" font-weight="normal" fill="#222" >2,000</text>
<text transform="translate(229.4,180.35) scale(0.97,1)" font-size="8.8" text-anchor="end" font-weight="normal" fill="#222" >2,500</text>
<text transform="translate(233.6,277.3) scale(0.91,1)" font-size="8.8" text-anchor="middle" font-weight="normal" fill="#222" >0</text>
<text transform="translate(266.38,277.3) scale(0.91,1)" font-size="8.8" text-anchor="middle" font-weight="normal" fill="#222" >10</text>
<text transform="translate(299.16,277.3) scale(0.91,1)" font-size="8.8" text-anchor="middle" font-weight="normal" fill="#222" >20</text>
<text transform="translate(331.94,277.3) scale(0.91,1)" font-size="8.8" text-anchor="middle" font-weight="normal" fill="#222" >30</text>
<text transform="translate(364.72,277.3) scale(0.91,1)" font-size="8.8" text-anchor="middle" font-weight="normal" fill="#222" >40</text>
<text transform="translate(200.6,219) rotate(-90) scale(1,1.1)" font-size="9.5" text-anchor="middle" fill="#111">Tumor volume (mm<tspan dy="-3.2" font-size="6.5">3</tspan><tspan dy="3.2">)</tspan></text>
<text transform="translate(299.2,290.4) scale(0.97,1)" font-size="10" text-anchor="middle" font-weight="normal" fill="#111" >Days</text>
<text transform="translate(298.8,163.5) scale(0.99,1)" font-size="9.8" text-anchor="middle" font-weight="bold" fill="#111" >ABT-199 combination</text>
<text transform="translate(189.4,162) scale(0.88,1)" font-size="15.2" text-anchor="start" font-weight="bold" fill="#000" >D</text>
<path d="M237.75 278.75H300.8" stroke="#1414e6" stroke-width="1.4"/>
<path d="M237.75 282.25H300.8" stroke="#1f805c" stroke-width="1.4"/>
<polyline points="243.43,262.39 253.27,262.39 263.1,262.74 276.21,262.39 286.05,261.77 302.44,255.73 312.27,251.13 325.38,237.75 335.22,227.76" fill="none" stroke="#e8141c" stroke-width="1.1" stroke-linejoin="round"/>
<path d="M243.43 262.04V262.74M241.83 262.04H245.03M241.83 262.74H245.03M253.27 262.04V262.74M251.67 262.04H254.87M251.67 262.74H254.87M263.1 262.39V263.08M261.5 262.39H264.7M261.5 263.08H264.7M276.21 262.04V262.74M274.61 262.04H277.81M274.61 262.74H277.81M286.05 261.42V262.11M284.45 261.42H287.65M284.45 262.11H287.65M302.44 254.7V256.77M300.84 254.7H304.04M300.84 256.77H304.04M312.27 249.05V253.2M310.67 249.05H313.87M310.67 253.2H313.87M325.38 233.24V242.25M323.78 233.24H326.98M323.78 242.25H326.98M335.22 221.53V234M333.62 221.53H336.82M333.62 234H336.82" fill="none" stroke="#e8141c" stroke-width="1"/>
<rect x="241.63" y="260.59" width="3.6" height="3.6" fill="#e8141c"/>
<rect x="251.47" y="260.59" width="3.6" height="3.6" fill="#e8141c"/>
<rect x="261.3" y="260.94" width="3.6" height="3.6" fill="#e8141c"/>
<rect x="274.41" y="260.59" width="3.6" height="3.6" fill="#e8141c"/>
<rect x="284.25" y="259.97" width="3.6" height="3.6" fill="#e8141c"/>
<rect x="300.64" y="253.93" width="3.6" height="3.6" fill="#e8141c"/>
<rect x="310.47" y="249.33" width="3.6" height="3.6" fill="#e8141c"/>
<rect x="323.58" y="235.95" width="3.6" height="3.6" fill="#e8141c"/>
<rect x="333.42" y="225.96" width="3.6" height="3.6" fill="#e8141c"/>
<polyline points="236.88,260.52 243.43,259.62 253.27,255.73 263.1,251.99 276.21,240.24 286.05,234 302.44,221.11 312.27,199.76" fill="none" stroke="#1f805c" stroke-width="1.1" stroke-linejoin="round"/>
<path d="M243.43 258.92V260.31M241.83 258.92H245.03M241.83 260.31H245.03M253.27 254.35V257.12M251.67 254.35H254.87M251.67 257.12H254.87M263.1 250.61V253.38M261.5 250.61H264.7M261.5 253.38H264.7M276.21 238.51V241.97M274.61 238.51H277.81M274.61 241.97H277.81M286.05 231.92V236.08M284.45 231.92H287.65M284.45 236.08H287.65M302.44 218.68V223.54M300.84 218.68H304.04M300.84 223.54H304.04M312.27 198.03V201.49M310.67 198.03H313.87M310.67 201.49H313.87" fill="none" stroke="#1f805c" stroke-width="1"/>
<path d="M234.9 262.05L238.86 262.05L236.88 258.63Z" fill="#1f805c"/>
<path d="M241.45 261.15L245.41 261.15L243.43 257.73Z" fill="#1f805c"/>
<path d="M251.29 257.26L255.25 257.26L253.27 253.84Z" fill="#1f805c"/>
<path d="M261.12 253.52L265.08 253.52L263.1 250.1Z" fill="#1f805c"/>
<path d="M274.23 241.77L278.19 241.77L276.21 238.35Z" fill="#1f805c"/>
<path d="M284.07 235.53L288.03 235.53L286.05 232.11Z" fill="#1f805c"/>
<path d="M300.46 222.64L304.42 222.64L302.44 219.22Z" fill="#1f805c"/>
<path d="M310.29 201.29L314.25 201.29L312.27 197.87Z" fill="#1f805c"/>
<polyline points="236.88,260.52 243.43,258.61 253.27,251.51 263.1,239.9 276.21,213.76 286.05,193.1" fill="none" stroke="#111111" stroke-width="1.1" stroke-linejoin="round"/>
<path d="M243.43 257.92V259.3M241.83 257.92H245.03M241.83 259.3H245.03M253.27 250.12V252.89M251.67 250.12H254.87M251.67 252.89H254.87M263.1 238.16V241.63M261.5 238.16H264.7M261.5 241.63H264.7M276.21 211.68V215.84M274.61 211.68H277.81M274.61 215.84H277.81M286.05 191.02V195.18M284.45 191.02H287.65M284.45 195.18H287.65" fill="none" stroke="#111111" stroke-width="1"/>
<circle cx="236.88" cy="260.52" r="1.8" fill="#111111"/>
<circle cx="243.43" cy="258.61" r="1.8" fill="#111111"/>
<circle cx="253.27" cy="251.51" r="1.8" fill="#111111"/>
<circle cx="263.1" cy="239.9" r="1.8" fill="#111111"/>
<circle cx="276.21" cy="213.76" r="1.8" fill="#111111"/>
<circle cx="286.05" cy="193.1" r="1.8" fill="#111111"/>
<polyline points="236.88,260.52 243.43,259.62 253.27,256.12 263.1,245.23 276.21,231.51 286.05,223.26 302.44,196.5" fill="none" stroke="#1414e6" stroke-width="1.1" stroke-linejoin="round"/>
<path d="M243.43 258.92V260.31M241.83 258.92H245.03M241.83 260.31H245.03M253.27 254.73V257.5M251.67 254.73H254.87M251.67 257.5H254.87M263.1 243.5V246.97M261.5 243.5H264.7M261.5 246.97H264.7M276.21 228.39V234.63M274.61 228.39H277.81M274.61 234.63H277.81M286.05 220.14V226.38M284.45 220.14H287.65M284.45 226.38H287.65M302.44 190.26V202.74M300.84 190.26H304.04M300.84 202.74H304.04" fill="none" stroke="#1414e6" stroke-width="1"/>
<rect x="235.08" y="258.72" width="3.6" height="3.6" fill="#1414e6"/>
<rect x="241.63" y="257.82" width="3.6" height="3.6" fill="#1414e6"/>
<rect x="251.47" y="254.32" width="3.6" height="3.6" fill="#1414e6"/>
<rect x="261.3" y="243.43" width="3.6" height="3.6" fill="#1414e6"/>
<rect x="274.41" y="229.71" width="3.6" height="3.6" fill="#1414e6"/>
<rect x="284.25" y="221.46" width="3.6" height="3.6" fill="#1414e6"/>
<rect x="300.64" y="194.7" width="3.6" height="3.6" fill="#1414e6"/>
<path d="M388.75 17.75V93.1M438.1 17.75V93.1M466.25 17.75V93.1M493.3 17.75V93.1M519.2 17.75V93.1M388.75 17.75H519.2M388.75 30.2H519.2M388.75 43.1H519.2M388.75 56H519.2M388.75 68.5H519.2M388.75 93.1H519.2" fill="none" stroke="#0d0d0d" stroke-width="1.6" stroke-linecap="square"/>
<text x="452.18" y="27.96" font-size="9.4" text-anchor="middle" font-weight="bold" fill="#111" >PR</text>
<text x="479.77" y="27.96" font-size="9.4" text-anchor="middle" font-weight="bold" fill="#111" >CR</text>
<text x="506.25" y="27.96" font-size="9.4" text-anchor="middle" font-weight="bold" fill="#111" >TFS</text>
<text x="413.43" y="40.63" font-size="9.4" text-anchor="middle" font-weight="bold" fill="#111" >Vehicle</text>
<text x="452.18" y="40.63" font-size="9.4" text-anchor="middle" font-weight="normal" fill="#111" >0/10</text>
<text x="479.77" y="40.63" font-size="9.4" text-anchor="middle" font-weight="normal" fill="#111" >0/10</text>
<text x="506.25" y="40.63" font-size="9.4" text-anchor="middle" font-weight="normal" fill="#111" >0/10</text>
<text x="413.43" y="53.53" font-size="9.4" text-anchor="middle" font-weight="bold" fill="#111" >IGM-8444</text>
<text x="452.18" y="53.53" font-size="9.4" text-anchor="middle" font-weight="normal" fill="#111" >1/10</text>
<text x="479.77" y="53.53" font-size="9.4" text-anchor="middle" font-weight="normal" fill="#111" >0/10</text>
<text x="506.25" y="53.53" font-size="9.4" text-anchor="middle" font-weight="normal" fill="#111" >0/10</text>
<text x="413.43" y="66.23" font-size="9.4" text-anchor="middle" font-weight="bold" fill="#111" >5-FU</text>
<text x="452.18" y="66.23" font-size="9.4" text-anchor="middle" font-weight="normal" fill="#111" >0/10</text>
<text x="479.77" y="66.23" font-size="9.4" text-anchor="middle" font-weight="normal" fill="#111" >0/10</text>
<text x="506.25" y="66.23" font-size="9.4" text-anchor="middle" font-weight="normal" fill="#111" >0/10</text>
<text x="413.43" y="79.28" font-size="9.4" text-anchor="middle" font-weight="bold" fill="#111" >IGM-8444</text>
<text x="413.43" y="90.28" font-size="9.4" text-anchor="middle" font-weight="bold" fill="#111" >+ 5-FU</text>
<text x="452.18" y="84.78" font-size="9.4" text-anchor="middle" font-weight="normal" fill="#111" >3/10</text>
<text x="479.77" y="84.78" font-size="9.4" text-anchor="middle" font-weight="normal" fill="#111" >1/10</text>
<text x="506.25" y="84.78" font-size="9.4" text-anchor="middle" font-weight="normal" fill="#111" >1/10</text>
<path d="M36 301.9V381.4M92.25 301.9V381.4M124 301.9V381.4M155 301.9V381.4M184 301.9V381.4M36 301.9H184M36 315H184M36 328.5H184M36 341.9H184M36 354.9H184M36 381.4H184" fill="none" stroke="#0d0d0d" stroke-width="1.6" stroke-linecap="square"/>
<text x="108.12" y="312.43" font-size="9.4" text-anchor="middle" font-weight="bold" fill="#111" >PR</text>
<text x="139.5" y="312.43" font-size="9.4" text-anchor="middle" font-weight="bold" fill="#111" >CR</text>
<text x="169.5" y="312.43" font-size="9.4" text-anchor="middle" font-weight="bold" fill="#111" >TFS</text>
<text x="64.12" y="325.73" font-size="9.4" text-anchor="middle" font-weight="bold" fill="#111" >Vehicle</text>
<text x="108.12" y="325.73" font-size="9.4" text-anchor="middle" font-weight="normal" fill="#111" >0/10</text>
<text x="139.5" y="325.73" font-size="9.4" text-anchor="middle" font-weight="normal" fill="#111" >0/10</text>
<text x="169.5" y="325.73" font-size="9.4" text-anchor="middle" font-weight="normal" fill="#111" >0/10</text>
<text x="64.12" y="339.18" font-size="9.4" text-anchor="middle" font-weight="bold" fill="#111" >IGM-8444</text>
<text x="108.12" y="339.18" font-size="9.4" text-anchor="middle" font-weight="normal" fill="#111" >0/10</text>
<text x="139.5" y="339.18" font-size="9.4" text-anchor="middle" font-weight="normal" fill="#111" >0/10</text>
<text x="169.5" y="339.18" font-size="9.4" text-anchor="middle" font-weight="normal" fill="#111" >0/10</text>
<text x="64.12" y="352.38" font-size="9.4" text-anchor="middle" font-weight="bold" fill="#111" >Paclitaxel</text>
<text x="108.12" y="352.38" font-size="9.4" text-anchor="middle" font-weight="normal" fill="#111" >7/10</text>
<text x="139.5" y="352.38" font-size="9.4" text-anchor="middle" font-weight="normal" fill="#111" >3/10</text>
<text x="169.5" y="352.38" font-size="9.4" text-anchor="middle" font-weight="normal" fill="#111" >2/10</text>
<text x="64.12" y="366.63" font-size="9.4" text-anchor="middle" font-weight="bold" fill="#111" >IGM-8444 +</text>
<text x="64.12" y="377.63" font-size="9.4" text-anchor="middle" font-weight="bold" fill="#111" >Paclitaxel</text>
<text x="108.12" y="372.13" font-size="9.4" text-anchor="middle" font-weight="normal" fill="#111" >0/10</text>
<text x="139.5" y="372.13" font-size="9.4" text-anchor="middle" font-weight="normal" fill="#111" >10/10</text>
<text x="169.5" y="372.13" font-size="9.4" text-anchor="middle" font-weight="normal" fill="#111" >8/10</text>
<path d="M234 303.5V381.4M286.5 303.5V381.4M316.5 303.5V381.4M345 303.5V381.4M372.9 303.5V381.4M234 303.5H372.9M234 316.9H372.9M234 329.75H372.9M234 342.6H372.9M234 355.75H372.9M234 381.4H372.9" fill="none" stroke="#0d0d0d" stroke-width="1.6" stroke-linecap="square"/>
<text x="301.5" y="314.18" font-size="9.4" text-anchor="middle" font-weight="bold" fill="#111" >PR</text>
<text x="330.75" y="314.18" font-size="9.4" text-anchor="middle" font-weight="bold" fill="#111" >CR</text>
<text x="358.95" y="314.18" font-size="9.4" text-anchor="middle" font-weight="bold" fill="#111" >TFS</text>
<text x="260.25" y="327.31" font-size="9.4" text-anchor="middle" font-weight="bold" fill="#111" >Vehicle</text>
<text x="301.5" y="327.31" font-size="9.4" text-anchor="middle" font-weight="normal" fill="#111" >0/10</text>
<text x="330.75" y="327.31" font-size="9.4" text-anchor="middle" font-weight="normal" fill="#111" >0/10</text>
<text x="358.95" y="327.31" font-size="9.4" text-anchor="middle" font-weight="normal" fill="#111" >0/10</text>
<text x="260.25" y="340.16" font-size="9.4" text-anchor="middle" font-weight="bold" fill="#111" >IGM-8444</text>
<text x="301.5" y="340.16" font-size="9.4" text-anchor="middle" font-weight="normal" fill="#111" >0/10</text>
<text x="330.75" y="340.16" font-size="9.4" text-anchor="middle" font-weight="normal" fill="#111" >0/10</text>
<text x="358.95" y="340.16" font-size="9.4" text-anchor="middle" font-weight="normal" fill="#111" >0/10</text>
<text x="260.25" y="353.16" font-size="9.4" text-anchor="middle" font-weight="bold" fill="#111" >ABT-199</text>
<text x="301.5" y="353.16" font-size="9.4" text-anchor="middle" font-weight="normal" fill="#111" >0/10</text>
<text x="330.75" y="353.16" font-size="9.4" text-anchor="middle" font-weight="normal" fill="#111" >0/10</text>
<text x="358.95" y="353.16" font-size="9.4" text-anchor="middle" font-weight="normal" fill="#111" >0/10</text>
<text x="260.25" y="367.06" font-size="9.4" text-anchor="middle" font-weight="bold" fill="#111" >IGM-8444 +</text>
<text x="260.25" y="378.06" font-size="9.4" text-anchor="middle" font-weight="bold" fill="#111" >ABT-199</text>
<text x="301.5" y="372.56" font-size="9.4" text-anchor="middle" font-weight="normal" fill="#111" >3/10</text>
<text x="330.75" y="372.56" font-size="9.4" text-anchor="middle" font-weight="normal" fill="#111" >2/10</text>
<text x="358.95" y="372.56" font-size="9.4" text-anchor="middle" font-weight="normal" fill="#111" >0/10</text>
<rect x="389.4" y="150" width="118.2" height="130" fill="none" stroke="#222" stroke-width="1.1"/>
<path d="M402.1 170.6H415.8" stroke="#111111" stroke-width="1.4"/>
<circle cx="408.85" cy="170.6" r="2.6" fill="#111111"/>
<text x="423.6" y="174.78" font-size="10.5" text-anchor="start" font-weight="normal" fill="#111" >Vehicle</text>
<path d="M402.1 190.15H415.8" stroke="#1414e6" stroke-width="1.4"/>
<rect x="406.25" y="187.55" width="5.2" height="5.2" fill="#1414e6"/>
<text x="423.6" y="194.33" font-size="10.5" text-anchor="start" font-weight="normal" fill="#111" >IGM-8444</text>
<path d="M402.1 213.35H415.8" stroke="#1f805c" stroke-width="1.4"/>
<path d="M405.66 215.81L412.04 215.81L408.85 210.31Z" fill="#1f805c"/>
<text x="423.6" y="211.83" font-size="10.5" text-anchor="start" font-weight="normal" fill="#111" >Chemotherapy/</text>
<text x="423.6" y="223.23" font-size="10.5" text-anchor="start" font-weight="normal" fill="#111" >targeted agent</text>
<path d="M402.1 250.5H415.8" stroke="#e8141c" stroke-width="1.4"/>
<rect x="406.25" y="247.9" width="5.2" height="5.2" fill="#e8141c"/>
<text x="423.6" y="243.28" font-size="10.5" text-anchor="start" font-weight="normal" fill="#111" >IGM-8444 +</text>
<text x="423.6" y="254.68" font-size="10.5" text-anchor="start" font-weight="normal" fill="#111" >Chemotherapy/</text>
<text x="423.6" y="266.08" font-size="10.5" text-anchor="start" font-weight="normal" fill="#111" >targeted agent</text>
</svg>
</body></html>
